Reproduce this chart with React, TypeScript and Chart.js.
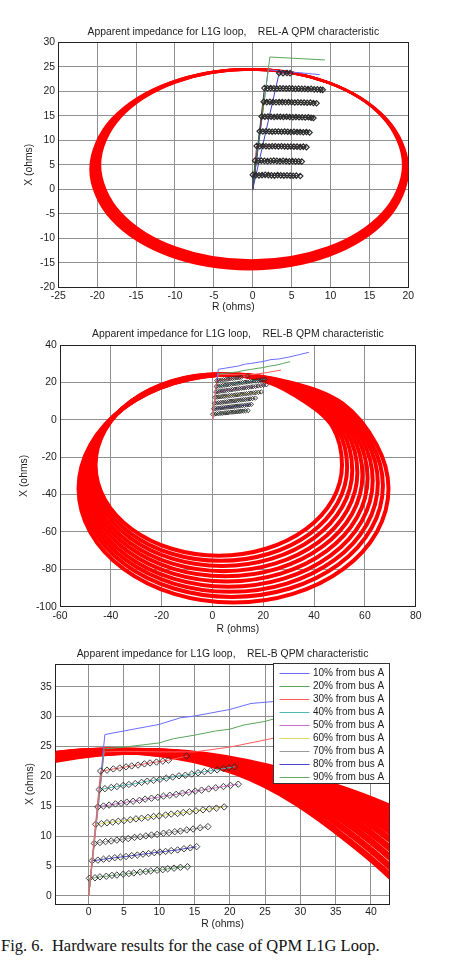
import React, { useEffect, useRef } from "react";
import { Chart, registerables } from "chart.js";

Chart.register(...registerables);

type Pt = [number, number];

const FONT = "'Liberation Sans', Arial, Helvetica, sans-serif";
const TEXT = "#1c1c1c";
const GRID = "#8f8f8f";
const AXIS = "#222222";
const RED = "#ff0000";

/* ---------------- Panel 1 : REL-A ---------------- */
const relATitle = "Apparent impedance for L1G loop,    REL-A QPM characteristic";
const relAXRange = { min: -25, max: 20, step: 5 };
const relAYRange = { min: -20, max: 30, step: 5 };

// apparent-impedance loci (points read around each trace, clockwise from the top)
const relALocus1: Pt[] = [[-0.15, 24.45], [9.6, 21.84], [16.74, 14.7], [19.35, 4.95], [16.74, -4.8], [9.6, -11.94], [-0.15, -14.55], [-9.9, -11.94], [-17.04, -4.8], [-19.65, 4.95], [-17.04, 14.7], [-9.9, 21.84]];
const relALocus2: Pt[] = [[-0.21, 24.46], [9.63, 21.82], [16.83, 14.62], [19.47, 4.78], [16.83, -5.06], [9.63, -12.26], [-0.21, -14.9], [-10.05, -12.26], [-17.25, -5.06], [-19.89, 4.78], [-17.25, 14.62], [-10.05, 21.82]];
const relALocus3: Pt[] = [[-0.27, 24.47], [9.66, 21.81], [16.93, 14.54], [19.59, 4.61], [16.93, -5.32], [9.66, -12.59], [-0.27, -15.25], [-10.2, -12.59], [-17.47, -5.32], [-20.13, 4.61], [-17.47, 14.54], [-10.2, 21.81]];
const relALocus4: Pt[] = [[-0.33, 24.48], [9.69, 21.79], [17.02, 14.46], [19.71, 4.44], [17.02, -5.58], [9.69, -12.91], [-0.33, -15.6], [-10.35, -12.91], [-17.68, -5.58], [-20.37, 4.44], [-17.68, 14.46], [-10.35, 21.79]];
const relALocus5: Pt[] = [[-0.39, 24.49], [9.72, 21.78], [17.12, 14.38], [19.83, 4.27], [17.12, -5.84], [9.72, -13.24], [-0.39, -15.95], [-10.5, -13.24], [-17.9, -5.84], [-20.61, 4.27], [-17.9, 14.38], [-10.5, 21.78]];
const relALocus6: Pt[] = [[-0.45, 24.5], [9.75, 21.77], [17.22, 14.3], [19.95, 4.1], [17.22, -6.1], [9.75, -13.57], [-0.45, -16.3], [-10.65, -13.57], [-18.12, -6.1], [-20.85, 4.1], [-18.12, 14.3], [-10.65, 21.77]];

const relAReachGreen: Pt[] = [[0, 0], [2.2, 27], [9.3, 26.4]];
const relAReachBlue: Pt[] = [[0, 0], [2.0, 24.4], [8.6, 23.4]];

const relARow1: Pt[] = [[0.0, 2.95], [0.4, 2.9], [0.8, 2.85], [1.2, 2.9], [1.6, 2.95], [2.0, 2.9], [2.4, 2.85], [2.8, 2.8], [3.2, 2.9], [3.6, 2.85], [4.0, 2.8], [4.4, 2.85], [4.8, 2.8], [5.2, 2.75], [5.6, 2.8], [6.1, 2.7]];
const relARow2: Pt[] = [[0.3, 5.85], [0.7, 5.8], [1.1, 5.85], [1.5, 5.8], [1.9, 5.75], [2.3, 5.8], [2.7, 5.85], [3.1, 5.8], [3.5, 5.75], [3.9, 5.8], [4.3, 5.75], [4.7, 5.7], [5.1, 5.75], [5.5, 5.7], [5.9, 5.7], [6.3, 5.65]];
const relARow3: Pt[] = [[0.5, 8.85], [0.9, 8.8], [1.3, 8.85], [1.7, 8.8], [2.1, 8.75], [2.5, 8.8], [2.9, 8.8], [3.3, 8.75], [3.7, 8.8], [4.1, 8.75], [4.5, 8.7], [4.9, 8.75], [5.3, 8.7], [5.7, 8.7], [6.1, 8.65], [6.5, 8.7], [6.9, 8.6]];
const relARow4: Pt[] = [[0.9, 11.85], [1.3, 11.8], [1.7, 11.85], [2.1, 11.8], [2.5, 11.75], [2.9, 11.8], [3.3, 11.8], [3.7, 11.75], [4.1, 11.8], [4.5, 11.75], [4.9, 11.7], [5.3, 11.75], [5.7, 11.7], [6.1, 11.7], [6.5, 11.65], [6.9, 11.7], [7.3, 11.6]];
const relARow5: Pt[] = [[1.15, 14.85], [1.55, 14.8], [1.95, 14.85], [2.35, 14.8], [2.75, 14.75], [3.15, 14.8], [3.55, 14.8], [3.95, 14.75], [4.35, 14.8], [4.75, 14.75], [5.15, 14.7], [5.55, 14.75], [5.95, 14.7], [6.35, 14.7], [6.75, 14.65], [7.15, 14.7], [7.5, 14.6], [7.8, 14.55]];
const relARow6: Pt[] = [[1.4, 17.85], [1.8, 17.8], [2.2, 17.85], [2.6, 17.8], [3.0, 17.75], [3.4, 17.8], [3.8, 17.8], [4.2, 17.75], [4.6, 17.8], [5.0, 17.75], [5.4, 17.7], [5.8, 17.75], [6.2, 17.7], [6.6, 17.7], [7.0, 17.65], [7.4, 17.7], [7.8, 17.6], [8.2, 17.55]];
const relARow7: Pt[] = [[1.5, 20.65], [1.9, 20.6], [2.3, 20.65], [2.7, 20.6], [3.1, 20.55], [3.5, 20.6], [3.9, 20.6], [4.3, 20.55], [4.7, 20.6], [5.1, 20.55], [5.5, 20.5], [5.9, 20.55], [6.3, 20.5], [6.7, 20.5], [7.1, 20.45], [7.5, 20.5], [7.9, 20.4], [8.3, 20.4], [8.7, 20.35], [9.0, 20.3]];
const relARow8: Pt[] = [[3.4, 23.75], [3.9, 23.7], [4.4, 23.75], [4.8, 23.7]];
const relARowColors = ["#3a3a8a", "#3a6a3a", "#8a3a3a", "#2e7070", "#703070", "#70702e", "#404040", "#4040c0"];

/* ---------------- Panels 2 & 3 : REL-B ---------------- */
const relBTitle = "Apparent impedance for L1G loop,    REL-B QPM characteristic";
const relBWideX = { min: -60, max: 80, step: 20 };
const relBWideY = { min: -100, max: 40, step: 20 };
const relBZoomX = { min: -4.67, max: 42.6, step: 5 };
const relBZoomY = { min: -1.34, max: 38.8, step: 5 };

// loci read clockwise from the top, innermost first
const relBLocus1: Pt[] = [[2.5, 24.3], [21.06, 20.61], [36.79, 9.29], [47.31, -3.84], [51, -24.2], [47.31, -42.76], [36.79, -58.49], [21.06, -69.01], [2.5, -72.7], [-16.06, -69.01], [-31.79, -58.49], [-42.31, -42.76], [-46, -24.2], [-42.31, -5.64], [-31.79, 10.09], [-16.06, 20.61]];
const relBLocus2: Pt[] = [[3.14, 24.29], [22.23, 20.49], [38.41, 9.21], [49.22, -4.9], [53.02, -25.59], [49.22, -44.68], [38.41, -60.86], [22.23, -71.67], [3.14, -75.47], [-15.95, -71.67], [-32.13, -60.86], [-42.94, -44.68], [-46.74, -25.59], [-42.94, -6.5], [-32.13, 9.68], [-15.95, 20.49]];
const relBLocus3: Pt[] = [[3.78, 24.28], [23.39, 20.38], [40.02, 9.13], [51.13, -5.96], [55.03, -26.97], [51.13, -46.58], [40.02, -63.21], [23.39, -74.32], [3.78, -78.22], [-15.83, -74.32], [-32.46, -63.21], [-43.57, -46.58], [-47.47, -26.97], [-43.57, -7.36], [-32.46, 9.27], [-15.83, 20.38]];
const relBLocus4: Pt[] = [[4.41, 24.27], [24.55, 20.26], [41.62, 9.04], [53.03, -7.02], [57.04, -28.36], [53.03, -48.5], [41.62, -65.57], [24.55, -76.98], [4.41, -80.99], [-15.73, -76.98], [-32.8, -65.57], [-44.21, -48.5], [-48.22, -28.36], [-44.21, -8.22], [-32.8, 8.85], [-15.73, 20.26]];
const relBLocus5: Pt[] = [[5.05, 24.26], [25.72, 20.15], [43.23, 8.96], [54.94, -8.07], [59.05, -29.74], [54.94, -50.41], [43.23, -67.92], [25.72, -79.63], [5.05, -83.74], [-15.62, -79.63], [-33.13, -67.92], [-44.84, -50.41], [-48.95, -29.74], [-44.84, -9.07], [-33.13, 8.44], [-15.62, 20.15]];
const relBLocus6: Pt[] = [[5.69, 24.25], [26.88, 20.04], [44.85, 8.88], [56.86, -9.14], [61.07, -31.13], [56.86, -52.32], [44.85, -70.29], [26.88, -82.3], [5.69, -86.51], [-15.5, -82.3], [-33.47, -70.29], [-45.48, -52.32], [-49.69, -31.13], [-45.48, -9.94], [-33.47, 8.03], [-15.5, 20.04]];
const relBLocus7: Pt[] = [[6.33, 24.23], [28.05, 19.91], [46.46, 8.79], [58.76, -10.2], [63.08, -32.52], [58.76, -54.24], [46.46, -72.65], [28.05, -84.95], [6.33, -89.27], [-15.39, -84.95], [-33.8, -72.65], [-46.1, -54.24], [-50.42, -32.52], [-46.1, -10.8], [-33.8, 7.61], [-15.39, 19.91]];
const relBLocus8: Pt[] = [[6.97, 24.23], [29.22, 19.81], [48.07, 8.71], [60.68, -11.25], [65.1, -33.9], [60.68, -56.15], [48.07, -75.0], [29.22, -87.61], [6.97, -92.03], [-15.28, -87.61], [-34.13, -75.0], [-46.74, -56.15], [-51.16, -33.9], [-46.74, -11.65], [-34.13, 7.2], [-15.28, 19.81]];
const relBLocus9: Pt[] = [[7.6, 24.21], [30.37, 19.68], [49.67, 8.62], [62.57, -12.32], [67.1, -35.29], [62.57, -58.06], [49.67, -77.36], [30.37, -90.26], [7.6, -94.79], [-15.17, -90.26], [-34.47, -77.36], [-47.37, -58.06], [-51.9, -35.29], [-47.37, -12.52], [-34.47, 6.78], [-15.17, 19.68]];
const relBLocus10: Pt[] = [[8.3, 24.2], [31.64, 19.56], [51.43, 8.53], [64.66, -13.46], [69.3, -36.8], [64.66, -60.14], [51.43, -79.93], [31.64, -93.16], [8.3, -97.8], [-15.04, -93.16], [-34.83, -79.93], [-48.06, -60.14], [-52.7, -36.8], [-48.06, -13.46], [-34.83, 6.33], [-15.04, 19.56]];

const relBReach10: Pt[] = [[0, 0], [2.3, 27.0], [5, 27.6], [10, 28.7], [13, 29.8], [15, 30.1], [20, 31.2], [23, 32.2], [26, 32.5], [30, 33.5], [34, 34.8], [38, 36.1]];
const relBReach20: Pt[] = [[0, 0], [2.2, 24.6], [5, 24.9], [10, 25.6], [12, 26.3], [15, 26.9], [18, 27.6], [20, 27.9], [22, 28.6], [25, 29.2], [28, 30.2], [30.6, 31.1]];
const relBReach30: Pt[] = [[0, 0], [2.2, 24.1], [5, 24.2], [10, 24.1], [15, 24.1], [20, 24.9], [25, 26.1], [27, 26.6]];

const relBRowA: Pt[] = [[1.7, 20.9], [2.6, 21.05], [3.5, 21.25], [4.4, 21.4], [5.3, 21.6], [6.1, 21.75], [7.0, 21.9], [7.9, 22.1], [8.7, 22.25], [9.6, 22.4], [10.5, 22.55], [11.3, 22.7], [13.9, 23.4]];
const relBRowB: Pt[] = [[1.5, 17.8], [2.3, 17.95], [3.2, 18.15], [4.0, 18.3], [4.9, 18.5], [5.7, 18.65], [6.6, 18.8], [7.5, 19.0], [8.3, 19.2], [9.2, 19.35], [10.1, 19.5], [11.0, 19.7], [11.9, 19.9], [12.8, 20.1], [13.7, 20.2], [14.6, 20.4], [15.5, 20.6], [16.4, 20.8], [17.3, 20.95], [18.2, 21.1], [19.1, 21.3], [19.9, 21.45], [20.7, 21.6]];
const relBRowC: Pt[] = [[1.3, 14.9], [2.1, 15.05], [2.9, 15.2], [3.8, 15.4], [4.6, 15.5], [5.4, 15.7], [6.3, 15.85], [7.2, 16.0], [8.0, 16.2], [8.9, 16.35], [9.8, 16.5], [10.6, 16.7], [11.5, 16.85], [12.4, 17.0], [13.3, 17.2], [14.2, 17.35], [15.1, 17.55], [16.0, 17.7], [17.0, 17.9], [18.0, 18.1], [19.1, 18.3], [20.1, 18.5], [21.2, 18.7]];
const relBRowD: Pt[] = [[1.0, 12.0], [1.8, 12.1], [2.6, 12.25], [3.4, 12.35], [4.2, 12.5], [5.0, 12.6], [5.9, 12.75], [6.7, 12.9], [7.5, 13.0], [8.4, 13.15], [9.2, 13.3], [10.0, 13.4], [10.9, 13.55], [11.7, 13.7], [12.6, 13.8], [13.4, 13.95], [14.3, 14.1], [15.2, 14.25], [16.2, 14.4], [17.1, 14.55], [18.1, 14.7], [19.2, 14.9]];
const relBRowE: Pt[] = [[0.8, 8.8], [1.6, 8.95], [2.4, 9.1], [3.2, 9.2], [4.0, 9.35], [4.8, 9.5], [5.6, 9.6], [6.5, 9.8], [7.3, 9.9], [8.1, 10.05], [8.9, 10.2], [9.7, 10.3], [10.6, 10.5], [11.4, 10.6], [12.2, 10.75], [13.0, 10.85], [13.9, 11.05], [14.8, 11.2], [15.8, 11.4], [16.9, 11.6]];
const relBRowF: Pt[] = [[0.5, 5.9], [1.3, 6.0], [2.1, 6.15], [2.9, 6.25], [3.7, 6.4], [4.5, 6.5], [5.3, 6.6], [6.1, 6.75], [6.9, 6.85], [7.7, 7.0], [8.5, 7.1], [9.3, 7.25], [10.1, 7.35], [10.9, 7.45], [11.7, 7.6], [12.6, 7.7], [13.5, 7.9], [14.4, 8.05], [15.3, 8.25]];
const relBRowG: Pt[] = [[0.1, 2.95], [0.9, 3.05], [1.6, 3.2], [2.5, 3.3], [3.3, 3.45], [4.0, 3.5], [4.9, 3.65], [5.7, 3.75], [6.4, 3.85], [7.3, 4.0], [8.1, 4.1], [8.8, 4.2], [9.7, 4.3], [10.5, 4.4], [11.2, 4.55], [12.1, 4.65], [13.0, 4.8], [14.0, 4.9]];

const legendLabels = ["10% from bus A", "20% from bus A", "30% from bus A", "40% from bus A", "50% from bus A", "60% from bus A", "70% from bus A", "80% from bus A", "90% from bus A"];
const seriesColors = ["#6b6bff", "#5aa55a", "#ff5a5a", "#4fb8b8", "#c86ec8", "#d8d860", "#9a9a9a", "#4646c8", "#6aa86a"];

const captionText = "Fig. 6.  Hardware results for the case of QPM L1G Loop.";

/* ---------------- helpers ---------------- */
const toXY = (pts: Pt[]) => pts.map(([x, y]) => ({ x, y }));

function lociSets(loci: Pt[][], width: number, tension: number) {
  return loci.map((pts) => {
    const data = toXY([...pts, pts[0], pts[1], pts[2]]);
    const last = data.length - 1;
    return {
      data,
      borderColor: RED,
      borderWidth: width,
      pointRadius: 0,
      tension,
      fill: false,
      order: 3,
      segment: {
        borderColor: (c: any) => (c.p0DataIndex === 0 || c.p1DataIndex === last ? "rgba(0,0,0,0)" : undefined),
      },
    };
  });
}

function lineSet(pts: Pt[], color: string) {
  return { data: toXY(pts), borderColor: color, borderWidth: 1, pointRadius: 0, tension: 0, fill: false, order: 2 };
}

function rowSet(row: Pt[], color: string, r: number, bw: number) {
  return {
    data: toXY([[0, 0], ...row]),
    borderColor: color,
    borderWidth: 1,
    tension: 0,
    fill: false,
    order: 1,
    pointStyle: "rectRot",
    pointRadius: (c: any) => (c.dataIndex === 0 ? 0 : r),
    pointBorderColor: "#2a2a2a",
    pointBackgroundColor: "rgba(0,0,0,0)",
    pointBorderWidth: bw,
  };
}

interface Layout {
  height: number;
  areaLeft: number;
  areaRight: number;
  padTop: number;
  titleGap: number;
  xTickPad: number;
  xAxisH: number;
  xTitlePad: number;
  yTitlePad: number;
  yTickPad: number;
}

const tickFont = { family: FONT, size: 10.4 };

function makeConfig(title: string, xr: any, yr: any, L: Layout, datasets: any[], plugins: any[] = []) {
  return {
    type: "line",
    data: { datasets },
    plugins,
    options: {
      responsive: false,
      maintainAspectRatio: false,
      animation: false,
      events: [],
      layout: { padding: { top: L.padTop, left: 0, right: 474 - L.areaRight, bottom: 0 } },
      elements: { line: { capBezierPoints: false } },
      plugins: {
        legend: { display: false },
        tooltip: { enabled: false },
        title: {
          display: true,
          text: title,
          fullSize: false,
          color: TEXT,
          font: { family: FONT, size: 10.4, weight: "normal" },
          padding: { top: 0, bottom: L.titleGap },
        },
      },
      scales: {
        x: {
          type: "linear",
          position: "bottom",
          min: xr.min,
          max: xr.max,
          ticks: { stepSize: xr.step, includeBounds: false, font: tickFont, color: TEXT, padding: L.xTickPad, maxRotation: 0, autoSkip: false },
          grid: { color: GRID, lineWidth: 1, drawTicks: false },
          border: { color: AXIS, width: 1 },
          title: { display: true, text: "R (ohms)", color: TEXT, font: tickFont, padding: { top: 0, bottom: L.xTitlePad } },
          afterFit: (s: any) => { s.height = L.xAxisH; },
        },
        y: {
          type: "linear",
          position: "left",
          min: yr.min,
          max: yr.max,
          ticks: { stepSize: yr.step, includeBounds: false, font: tickFont, color: TEXT, padding: L.yTickPad, autoSkip: false },
          grid: { color: GRID, lineWidth: 1, drawTicks: false },
          border: { color: AXIS, width: 1 },
          title: { display: true, text: "X (ohms)", color: TEXT, font: tickFont, padding: { top: L.yTitlePad, bottom: 0 } },
          afterFit: (s: any) => { s.width = L.areaLeft; },
        },
        xTop: {
          type: "linear",
          position: "top",
          min: xr.min,
          max: xr.max,
          ticks: { display: false },
          grid: { display: false, drawTicks: false },
          border: { color: AXIS, width: 1 },
          afterFit: (s: any) => { s.height = 0; },
        },
        yRight: {
          type: "linear",
          position: "right",
          min: yr.min,
          max: yr.max,
          ticks: { display: false },
          grid: { display: false, drawTicks: false },
          border: { color: AXIS, width: 1 },
          afterFit: (s: any) => { s.width = 0; },
        },
      },
    },
  };
}

const boxLegend = {
  id: "boxLegend",
  afterDatasetsDraw(chart: any) {
    const { ctx, chartArea } = chart;
    const w = 116;
    const h = 120;
    const left = Math.round(chartArea.right - w) + 0.5;
    const top = Math.round(chartArea.top) - 0.5;
    ctx.save();
    ctx.fillStyle = "#ffffff";
    ctx.fillRect(left, top, w, h);
    ctx.strokeStyle = "#333333";
    ctx.lineWidth = 1;
    ctx.strokeRect(left, top, w, h);
    ctx.font = `10px ${FONT}`;
    ctx.textBaseline = "middle";
    ctx.textAlign = "left";
    legendLabels.forEach((lab, i) => {
      const y = Math.round(top + 9 + i * 13.05) + 0.5;
      ctx.strokeStyle = seriesColors[i];
      ctx.beginPath();
      ctx.moveTo(left + 6, y);
      ctx.lineTo(left + 36, y);
      ctx.stroke();
      ctx.fillStyle = TEXT;
      ctx.fillText(lab, left + 39.5, y);
    });
    ctx.restore();
  },
};

/* ---------------- panels ---------------- */
const layout1: Layout = { height: 320, areaLeft: 58.3, areaRight: 408.3, padTop: 25.46, titleGap: 4.36, xTickPad: 2.46, xAxisH: 32.7, xTitlePad: 6.46, yTitlePad: 23.06, yTickPad: 3.3 };
const layout2: Layout = { height: 320, areaLeft: 60, areaRight: 415.7, padTop: 7.76, titleGap: 4.76, xTickPad: 2.76, xAxisH: 33.3, xTitlePad: 4.76, yTitlePad: 17.76, yTickPad: 3.3 };
const layout3: Layout = { height: 292, areaLeft: 55.7, areaRight: 389.3, padTop: 7.76, titleGap: 3.76, xTickPad: 1.46, xAxisH: 28, xTitlePad: 1.76, yTitlePad: 23.76, yTickPad: 4 };

const relBLoci = [relBLocus1, relBLocus2, relBLocus3, relBLocus4, relBLocus5, relBLocus6, relBLocus7, relBLocus8, relBLocus9, relBLocus10];

function relBDatasets(lociWidth: number, markerR: number) {
  return [
    ...lociSets(relBLoci, lociWidth, 0.34),
    lineSet(relBReach10, seriesColors[0]),
    lineSet(relBReach20, seriesColors[1]),
    lineSet(relBReach30, seriesColors[2]),
    rowSet(relBRowA, seriesColors[2], markerR, 0.9),
    rowSet(relBRowB, seriesColors[3], markerR, 0.9),
    rowSet(relBRowC, seriesColors[4], markerR, 0.9),
    rowSet(relBRowD, seriesColors[5], markerR, 0.9),
    rowSet(relBRowE, seriesColors[6], markerR, 0.9),
    rowSet(relBRowF, seriesColors[7], markerR, 0.9),
    rowSet(relBRowG, seriesColors[8], markerR, 0.9),
  ];
}

function panel1() {
  const rows = [relARow1, relARow2, relARow3, relARow4, relARow5, relARow6, relARow7, relARow8];
  return makeConfig(relATitle, relAXRange, relAYRange, layout1, [
    ...lociSets([relALocus1, relALocus2, relALocus3, relALocus4, relALocus5, relALocus6], 2.6, 0.35),
    lineSet(relAReachGreen, seriesColors[1]),
    lineSet(relAReachBlue, seriesColors[0]),
    ...rows.map((r, i) => rowSet(r, relARowColors[i], 2.7, 1.2)),
  ]);
}

function panel2() {
  return makeConfig(relBTitle, relBWideX, relBWideY, layout2, relBDatasets(4, 2.2));
}

function panel3() {
  return makeConfig(relBTitle, relBZoomX, relBZoomY, layout3, relBDatasets(6.5, 3.2), [boxLegend]);
}

function Panel({ top, height, build }: { top: number; height: number; build: () => any }) {
  const ref = useRef<HTMLCanvasElement>(null);
  useEffect(() => {
    const chart = new Chart(ref.current as HTMLCanvasElement, build() as any);
    return () => chart.destroy();
  }, []);
  return (
    <canvas
      ref={ref}
      width={474}
      height={height}
      style={{ position: "absolute", left: 0, top, width: 474, height, display: "block" }}
    />
  );
}

export default function App() {
  return (
    <div style={{ position: "absolute", left: 0, top: 0, width: 474, height: 963, background: "#fff", overflow: "hidden" }}>
      <Panel top={0} height={layout1.height} build={panel1} />
      <Panel top={320} height={layout2.height} build={panel2} />
      <Panel top={640} height={layout3.height} build={panel3} />
      <div
        style={{
          position: "absolute",
          left: 1,
          top: 936,
          fontFamily: "'Liberation Serif', 'Times New Roman', serif",
          fontSize: 16.5,
          lineHeight: "20px",
          whiteSpace: "pre",
          color: "#111",
        }}
      >
        {captionText}
      </div>
    </div>
  );
}
